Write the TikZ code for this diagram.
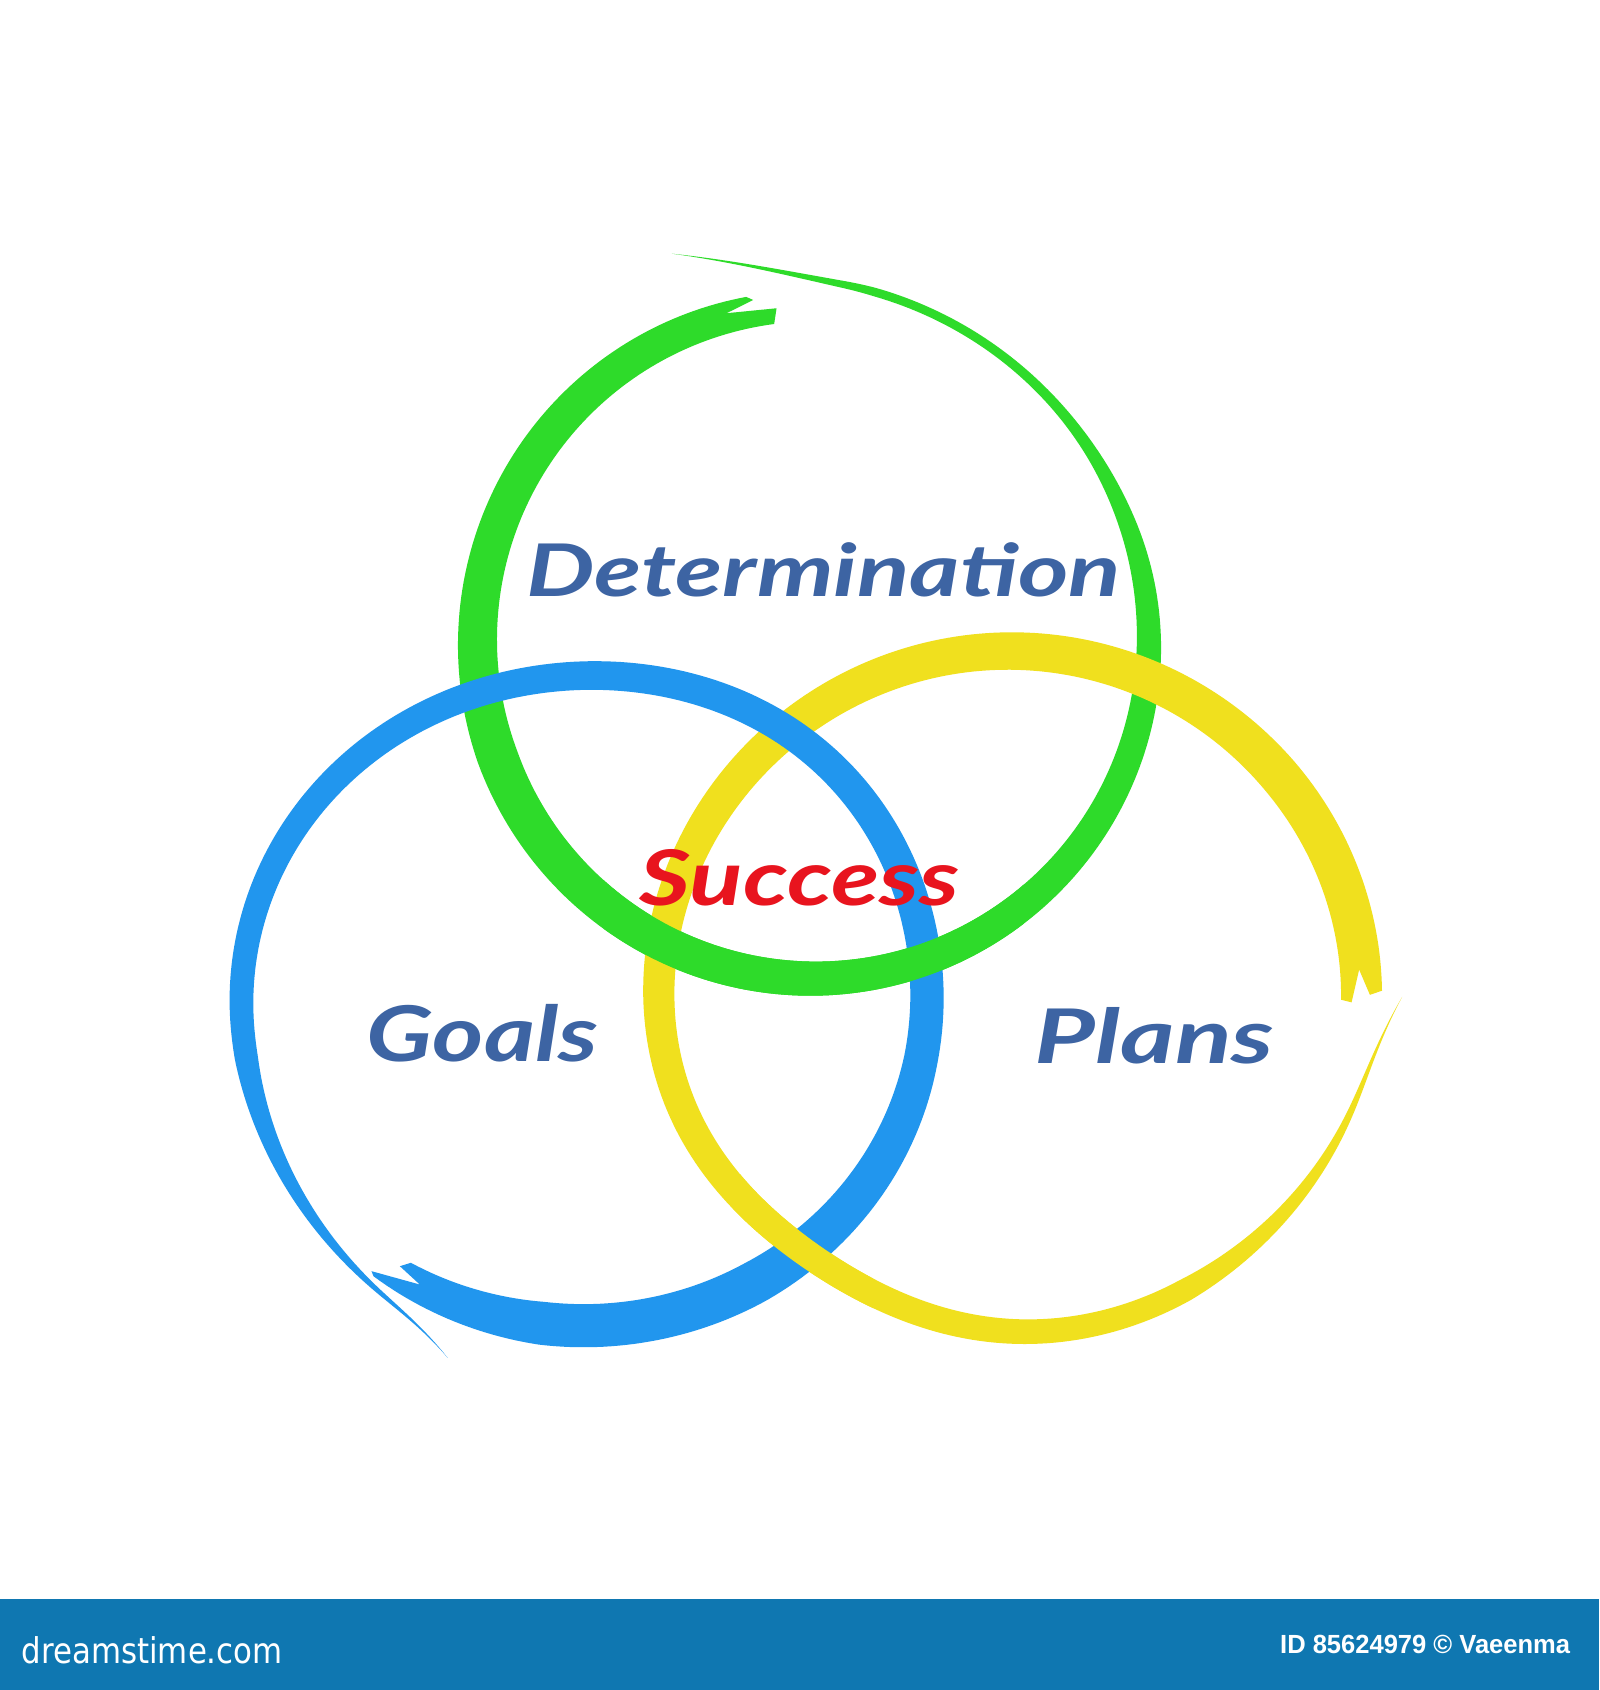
\documentclass[tikz,border=0pt]{standalone}
\usepackage{graphicx}
\usepackage{fontspec}
\setmainfont{Lato}
\newfontfamily\bannerfont{Liberation Sans}
\newfontfamily\logofont{DejaVu Sans}
\definecolor{gcol}{HTML}{2EDB2A}
\definecolor{bcol}{HTML}{2196EE}
\definecolor{ycol}{HTML}{F0E01E}
\definecolor{tcol}{HTML}{3D64A3}
\definecolor{rcol}{HTML}{E8141E}
\definecolor{bancol}{HTML}{0F77B1}
\tikzset{
  declare function={
    bump(\t,\c,\s)=exp(max(-9,-((\t-\c)/\s)*((\t-\c)/\s)));
    gw(\t)=(8+(30-0.09*abs(\t-200))/(1+exp(min(9,max(-9,(\t-385)/10)))))*min(1,(470-\t)/30);
    gr(\t)=0.005*pow(max(0,\t-380),2)+0.05*pow(max(0,\t-445),2);
    bw(\t)=min(min(28+0.4*(\t-233),40),max(40-0.17*(\t-300),31-0.05*(\t-360)))*min(1,(610-\t)/60);
    br(\t)=0.0089*pow(max(0,\t-545),2)+0.004*pow(max(0,\t-595),3)+8*bump(\t,410,35);
    yw(\t)=(38-0.065*max(0,\t-40))*min(1,(360-\t)/60);
    yr(\t)=0.0054*pow(max(0,\t-300),2)+0.0023*pow(max(0,\t-340),3)+7*bump(\t,90,50)-15*bump(\t,235,30);
  },
  lbl/.style={anchor=base west, inner sep=0pt, font=\bfseries\itshape},
}
\newcommand\greenshape{%
  \fill[gcol] (698.8,-278.3)
    -- plot[domain=101:470,samples=300] ({754.5+(311.5+gr(\x)+gw(\x)/2)*cos(\x)},{-596+(312+gr(\x)+gw(\x)/2)*sin(\x)})
    -- plot[domain=470:97,samples=300] ({754.5+(311.5+gr(\x)-gw(\x)/2)*cos(\x)},{-596+(312+gr(\x)-gw(\x)/2)*sin(\x)})
    -- (720.5,-286) -- (674.1,-290.6) -- cycle;}
\newcommand\blueshape{%
  \fill[bcol] (344.7,-1179.4)
    -- plot[domain=234:610,samples=300] ({541.5+(317.5+br(\x)+bw(\x)/2)*cos(\x)},{-929.5+(300.5+br(\x)+bw(\x)/2)*sin(\x)})
    -- plot[domain=610:238,samples=300] ({541.5+(317.5+br(\x)-bw(\x)/2)*cos(\x)},{-929.5+(300.5+br(\x)-bw(\x)/2)*sin(\x)})
    -- (371,-1174.8) -- (389.5,-1191.8) -- cycle;}
\newcommand\yellowshape{%
  \fill[ycol] (1271,-923)
    -- plot[domain=1:360,samples=300] ({937+(326+yr(\x)+yw(\x)/2)*cos(\x)},{-925+(314+yr(\x)+yw(\x)/2)*sin(\x)})
    -- plot[domain=360:-0.5,samples=300] ({937+(326+yr(\x)-yw(\x)/2)*cos(\x)},{-925+(314+yr(\x)-yw(\x)/2)*sin(\x)})
    -- (1254,-930) -- (1261,-899.6) -- cycle;}
\begin{document}
\begin{tikzpicture}[x=1pt,y=1pt]
\useasboundingbox (0,0) rectangle (1484,-1568);
\fill[white] (0,0) rectangle (1484,-1568);
% rings, woven
\greenshape
\yellowshape
\blueshape
\begin{scope}
  \clip (560,-790) rectangle (950,-960);
  \greenshape
\end{scope}
\begin{scope}
  \clip (680,-1090) rectangle (810,-1230);
  \yellowshape
\end{scope}
% labels
\node[lbl, text=tcol] (det) at (488,-553) {\resizebox{552pt}{50pt}{Determination}};
\node[lbl, text=rcol] (succ) at (593,-840) {\resizebox{297pt}{52pt}{Success}};
\node[lbl, text=tcol] (goals) at (340,-985) {\resizebox{215pt}{53pt}{Goals}};
\node[lbl, text=tcol] (plans) at (960,-987) {\resizebox{222pt}{52pt}{Plans}};
% banner
\fill[bancol] (0,-1484) rectangle (1484,-1568);
\node[anchor=base west, inner sep=0pt, text=white] (logo) at (20,-1543) {\resizebox{242pt}{25pt}{\logofont dreamstime.com}};
\node[anchor=base east, inner sep=0pt, text=white] (idtxt) at (1457,-1534) {\resizebox{269pt}{17pt}{\bannerfont\bfseries ID 85624979 © Vaeenma}};
\end{tikzpicture}
\end{document}
